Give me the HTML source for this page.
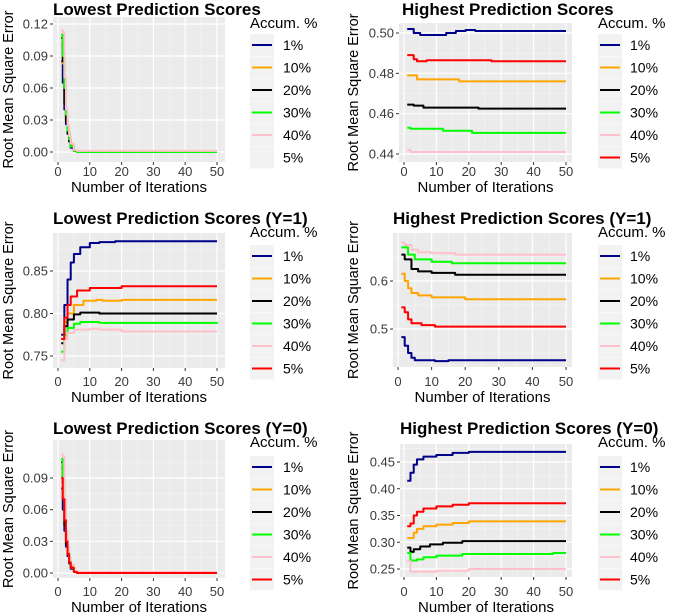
<!DOCTYPE html>
<html><head><meta charset="utf-8">
<style>
body{margin:0;background:#fff;}
svg{display:block;font-family:"Liberation Sans",sans-serif;}
</style></head>
<body>
<svg id="chart" width="685" height="615" viewBox="0 0 685 615" xmlns="http://www.w3.org/2000/svg"></svg>
<script>
// ---- data ----
const seriesNames = ["1%","10%","20%","30%","40%","5%"];
const seriesColors = ["#00008b","#ffa500","#000000","#00ff00","#ffc0cb","#ff0000"];
const xTickLabels = [0,10,20,30,40,50];

// Panel 1: Lowest Prediction Scores
const p1Iter = [1,1.5,2,2.5,3,3.5,4,5,6,50];
const p1_1  = [0.085,0.065,0.04,0.026,0.018,0.01,0.004,0.001,0,0];
const p1_10 = [0.10,0.083,0.05,0.03,0.02,0.012,0.006,0.001,0,0];
const p1_20 = [0.107,0.085,0.045,0.028,0.017,0.01,0.005,0.001,0,0];
const p1_30 = [0.11,0.09,0.06,0.035,0.02,0.012,0.005,0.001,0,0];
const p1_40 = [0.114,0.112,0.07,0.04,0.025,0.015,0.008,0.002,0.001,0.001];
const p1_5  = [];
const p1Ticks = [0,0.03,0.06,0.09,0.12];
const p1TickLabels = ["0.00","0.03","0.06","0.09","0.12"];

// Panel 2: Highest Prediction Scores
const p2Iter1 = [1,3,5,11,13,16,19,22,50];
const p2_1 = [0.502,0.500,0.499,0.499,0.500,0.501,0.5015,0.501,0.501];
const p2Iter10 = [1,2,4,15,17,50];
const p2_10 = [0.479,0.479,0.477,0.477,0.476,0.476];
const p2Iter20 = [1,3,6,22,23,50];
const p2_20 = [0.4645,0.464,0.463,0.463,0.4625,0.4625];
const p2Iter30 = [1,2,10,12,17,21,50];
const p2_30 = [0.453,0.4525,0.4525,0.4515,0.4515,0.4505,0.4505];
const p2Iter40 = [1,2,50];
const p2_40 = [0.442,0.441,0.441];
const p2Iter5 = [1,2,3,4,6,7,26,27,50];
const p2_5 = [0.489,0.489,0.487,0.486,0.486,0.4865,0.4865,0.486,0.486];
const p2Ticks = [0.44,0.46,0.48,0.50];
const p2TickLabels = ["0.44","0.46","0.48","0.50"];

// Panel 3: Lowest Prediction Scores (Y=1)
const p3Iter1 = [1,2,3,4,5,7,10,13,18,50];
const p3_1 = [0.775,0.81,0.84,0.86,0.87,0.878,0.883,0.884,0.885,0.885];
const p3Iter10 = [1,2,3,5,8,12,14,20,50];
const p3_10 = [0.77,0.79,0.80,0.81,0.815,0.816,0.815,0.816,0.816];
const p3Iter20 = [1,2,3,5,7,12,13,50];
const p3_20 = [0.765,0.785,0.793,0.799,0.801,0.801,0.80,0.80];
const p3Iter30 = [1,2,3,5,7,11,13,50];
const p3_30 = [0.755,0.775,0.783,0.788,0.790,0.790,0.789,0.788];
const p3Iter40 = [1,2,3,5,10,13,20,50];
const p3_40 = [0.745,0.77,0.777,0.781,0.782,0.781,0.779,0.779];
const p3Iter5 = [1,2,3,4,6,10,20,50];
const p3_5 = [0.77,0.795,0.81,0.82,0.827,0.83,0.832,0.832];
const p3Ticks = [0.75,0.80,0.85];
const p3TickLabels = ["0.75","0.80","0.85"];

// Panel 4: Highest Prediction Scores (Y=1)
const p4Iter1 = [1,2,3,4,5,10,11,14,15,50];
const p4_1 = [0.483,0.465,0.45,0.44,0.435,0.435,0.433,0.433,0.435,0.435];
const p4Iter10 = [1,2,3,4,6,10,20,50];
const p4_10 = [0.615,0.60,0.585,0.575,0.57,0.566,0.562,0.562];
const p4Iter20 = [1,2,4,6,10,17,50];
const p4_20 = [0.655,0.645,0.625,0.62,0.617,0.613,0.613];
const p4Iter30 = [1,3,5,10,16,50];
const p4_30 = [0.67,0.655,0.645,0.64,0.637,0.637];
const p4Iter40 = [1,2,4,6,10,17,50];
const p4_40 = [0.68,0.675,0.665,0.66,0.658,0.655,0.655];
const p4Iter5 = [1,2,3,4,7,11,50];
const p4_5 = [0.545,0.535,0.52,0.512,0.508,0.505,0.505];
const p4Ticks = [0.5,0.6];
const p4TickLabels = ["0.5","0.6"];

// Panel 5: Lowest Prediction Scores (Y=0)
const p5Iter = [1,1.5,2,2.5,3,3.5,4,5,6,50];
const p5_1  = [0.08,0.06,0.04,0.025,0.016,0.009,0.004,0.001,0,0];
const p5_10 = [0.10,0.08,0.05,0.03,0.02,0.012,0.006,0.001,0,0];
const p5_20 = [0.105,0.085,0.045,0.028,0.017,0.01,0.005,0.001,0,0];
const p5_30 = [0.108,0.09,0.06,0.035,0.02,0.012,0.005,0.001,0,0];
const p5_40 = [0.112,0.11,0.07,0.04,0.025,0.015,0.008,0.002,0.001,0.001];
const p5_5  = [0.09,0.07,0.05,0.03,0.018,0.01,0.005,0.001,0,0];
const p5Ticks = [0,0.03,0.06,0.09];
const p5TickLabels = ["0.00","0.03","0.06","0.09"];

// Panel 6: Highest Prediction Scores (Y=0)
const p6Iter1 = [1,2,3,4,6,10,15,20,50];
const p6_1 = [0.415,0.43,0.445,0.455,0.46,0.463,0.467,0.469,0.469];
const p6Iter10 = [1,2,3,4,6,10,15,20,50];
const p6_10 = [0.308,0.308,0.318,0.325,0.33,0.333,0.336,0.339,0.339];
const p6Iter20 = [1,2,3,5,8,12,18,50];
const p6_20 = [0.29,0.282,0.287,0.292,0.296,0.299,0.302,0.302];
const p6Iter30 = [1,2,4,6,10,18,45,46,50];
const p6_30 = [0.28,0.266,0.268,0.272,0.275,0.278,0.278,0.28,0.28];
const p6Iter40 = [1,2,5,10,20,50];
const p6_40 = [0.265,0.245,0.245,0.247,0.25,0.25];
const p6Iter5 = [1,2,3,4,6,10,15,20,50];
const p6_5 = [0.33,0.335,0.35,0.357,0.363,0.367,0.37,0.373,0.373];
const p6Ticks = [0.25,0.30,0.35,0.40,0.45];
const p6TickLabels = ["0.25","0.30","0.35","0.40","0.45"];

// ---- drawing ----
const NS = "http://www.w3.org/2000/svg";
const svg = document.getElementById("chart");
function mk(tag, attrs, parent){
  const e = document.createElementNS(NS, tag);
  for (const k in attrs) e.setAttribute(k, attrs[k]);
  (parent||svg).appendChild(e);
  return e;
}

const panels = [
  {title:"Lowest Prediction Scores", tx:53, ty:15, box:[53,17,225,162], x0:58, x50:217, v0:0, p0:152, v1:0.12, p1:24,
   ticks:p1Ticks, labels:p1TickLabels,
   series:[[p1Iter,p1_1],[p1Iter,p1_10],[p1Iter,p1_20],[p1Iter,p1_30],[p1Iter,p1_40],[p1Iter,p1_5]],
   legX:250, legTitleY:28, legKey0:45, legLabelX:283, xlabY:176, xtitleY:192},
  {title:"Highest Prediction Scores", tx:402, ty:15, box:[399,23,572,162], x0:404, x50:566, v0:0.44, p0:154, v1:0.50, p1:33,
   ticks:p2Ticks, labels:p2TickLabels,
   series:[[p2Iter1,p2_1],[p2Iter10,p2_10],[p2Iter20,p2_20],[p2Iter30,p2_30],[p2Iter40,p2_40],[p2Iter5,p2_5]],
   legX:598, legTitleY:28, legKey0:45, legLabelX:630, xlabY:176, xtitleY:192},
  {title:"Lowest Prediction Scores (Y=1)", tx:53, ty:224, box:[53,233,225,368], x0:58, x50:217, v0:0.75, p0:356, v1:0.85, p1:271,
   ticks:p3Ticks, labels:p3TickLabels,
   series:[[p3Iter1,p3_1],[p3Iter10,p3_10],[p3Iter20,p3_20],[p3Iter30,p3_30],[p3Iter40,p3_40],[p3Iter5,p3_5]],
   legX:250, legTitleY:237, legKey0:256, legLabelX:283, xlabY:386, xtitleY:402},
  {title:"Highest Prediction Scores (Y=1)", tx:393, ty:224, box:[393,233,572,367], x0:398, x50:566, v0:0.5, p0:329, v1:0.6, p1:281,
   ticks:p4Ticks, labels:p4TickLabels,
   series:[[p4Iter1,p4_1],[p4Iter10,p4_10],[p4Iter20,p4_20],[p4Iter30,p4_30],[p4Iter40,p4_40],[p4Iter5,p4_5]],
   legX:598, legTitleY:237, legKey0:256, legLabelX:630, xlabY:386, xtitleY:402},
  {title:"Lowest Prediction Scores (Y=0)", tx:53, ty:434, box:[53,440,225,578], x0:58, x50:217, v0:0, p0:573, v1:0.09, p1:478,
   ticks:p5Ticks, labels:p5TickLabels,
   series:[[p5Iter,p5_1],[p5Iter,p5_10],[p5Iter,p5_20],[p5Iter,p5_30],[p5Iter,p5_40],[p5Iter,p5_5]],
   legX:250, legTitleY:447, legKey0:467, legLabelX:283, xlabY:596, xtitleY:612},
  {title:"Highest Prediction Scores (Y=0)", tx:400, ty:434, box:[400,444,572,577], x0:404, x50:566, v0:0.25, p0:569, v1:0.45, p1:462,
   ticks:p6Ticks, labels:p6TickLabels,
   series:[[p6Iter1,p6_1],[p6Iter10,p6_10],[p6Iter20,p6_20],[p6Iter30,p6_30],[p6Iter40,p6_40],[p6Iter5,p6_5]],
   legX:598, legTitleY:447, legKey0:467, legLabelX:630, xlabY:596, xtitleY:612}
];

panels.forEach((P, pi) => {
  const g = mk("g", {});
  
  
  const xs = v => P.x0 + (P.x50 - P.x0) * v / 50;
  const ys = v => P.p0 + (P.p1 - P.p0) * (v - P.v0) / (P.v1 - P.v0);
  const [bx0, by0, bx1, by1] = P.box;
  const bg = mk("rect", {x:bx0, y:by0, width:bx1-bx0, height:by1-by0, fill:"#ebebeb"}, g);
  
  
  for (let i = 0; i < xTickLabels.length - 1; i++) {
    const xm = xs((xTickLabels[i] + xTickLabels[i+1]) / 2);
    mk("line", {x1:xm, x2:xm, y1:by0, y2:by1, stroke:"#f7f7f7", "stroke-width":0.6}, g);
  }
  const step = P.ticks.length > 1 ? P.ticks[1] - P.ticks[0] : 0.1;
  for (let v = P.ticks[0] - step/2; v <= P.ticks[P.ticks.length-1] + step; v += step) {
    const y = ys(v);
    if (y > by0 && y < by1) mk("line", {x1:bx0, x2:bx1, y1:y, y2:y, stroke:"#f7f7f7", "stroke-width":0.6}, g);
  }
  xTickLabels.forEach(t => {
    const x = xs(t);
    mk("line", {x1:x, x2:x, y1:by0, y2:by1, stroke:"#fff", "stroke-width":1.2}, g);
    mk("line", {x1:x, x2:x, y1:by1, y2:by1+3, stroke:"#333", "stroke-width":1}, g);
    const tl = mk("text", {x:x, y:P.xlabY, "text-anchor":"middle", "font-size":13, fill:"#3a3a3a"}, g);
    tl.textContent = t;
    
    
  });
  P.ticks.forEach((t, i) => {
    const y = ys(t);
    mk("line", {x1:bx0, x2:bx1, y1:y, y2:y, stroke:"#fff", "stroke-width":1.2}, g);
    mk("line", {x1:bx0-3, x2:bx0, y1:y, y2:y, stroke:"#333", "stroke-width":1}, g);
    const tl = mk("text", {x:bx0-5, y:y+4.5, "text-anchor":"end", "font-size":13, fill:"#3a3a3a"}, g);
    tl.textContent = P.labels[i];
    
    
  });
  P.series.forEach((s, si) => {
    const [it, vals] = s;
    if (!vals.length) return;
    let d = "";
    for (let k = 0; k < vals.length; k++) {
      const x = xs(it[k]), y = ys(vals[k]);
      if (k === 0) d += "M" + x + "," + y;
      else d += "H" + x + "V" + y;
    }
    const pth = mk("path", {d:d, fill:"none", stroke:seriesColors[si], "stroke-width":2, "stroke-linejoin":"round"}, g);
    
    
  });
  const tt = mk("text", {x:P.tx, y:P.ty, "font-size":17, "font-weight":"bold", fill:"#000"}, g);
  tt.textContent = P.title;
  
  
  const xt = mk("text", {x:(bx0+bx1)/2, y:P.xtitleY, "text-anchor":"middle", "font-size":15, fill:"#000"}, g);
  xt.textContent = "Number of Iterations";
  
  
  const cy = (by0+by1)/2, cx = (pi % 2 === 0) ? 13 : 358;
  const yt = mk("text", {x:cx, y:cy, "text-anchor":"middle", "font-size":14.5, fill:"#000", transform:"rotate(-90 "+cx+" "+cy+")"}, g);
  yt.textContent = "Root Mean Square Error";
  
  
  const lg = mk("g", {}, g);
  
  
  const lt = mk("text", {x:P.legX, y:P.legTitleY, "font-size":15, fill:"#000"}, lg);
  lt.textContent = "Accum. %";
  
  
  seriesNames.forEach((n, si) => {
    const cyk = P.legKey0 + si * 22.5;
    mk("rect", {x:P.legX, y:cyk-11, width:24, height:22, fill:"#f2f2f2"}, lg);
    if (P.series[si][1].length) {
      mk("line", {x1:P.legX+2, x2:P.legX+22, y1:cyk, y2:cyk, stroke:seriesColors[si], "stroke-width":2}, lg);
    }
    const le = mk("text", {x:P.legLabelX, y:cyk+5, "font-size":14, fill:"#000"}, lg);
    le.textContent = n;
    
    
  });
});
</script>
</body></html>
